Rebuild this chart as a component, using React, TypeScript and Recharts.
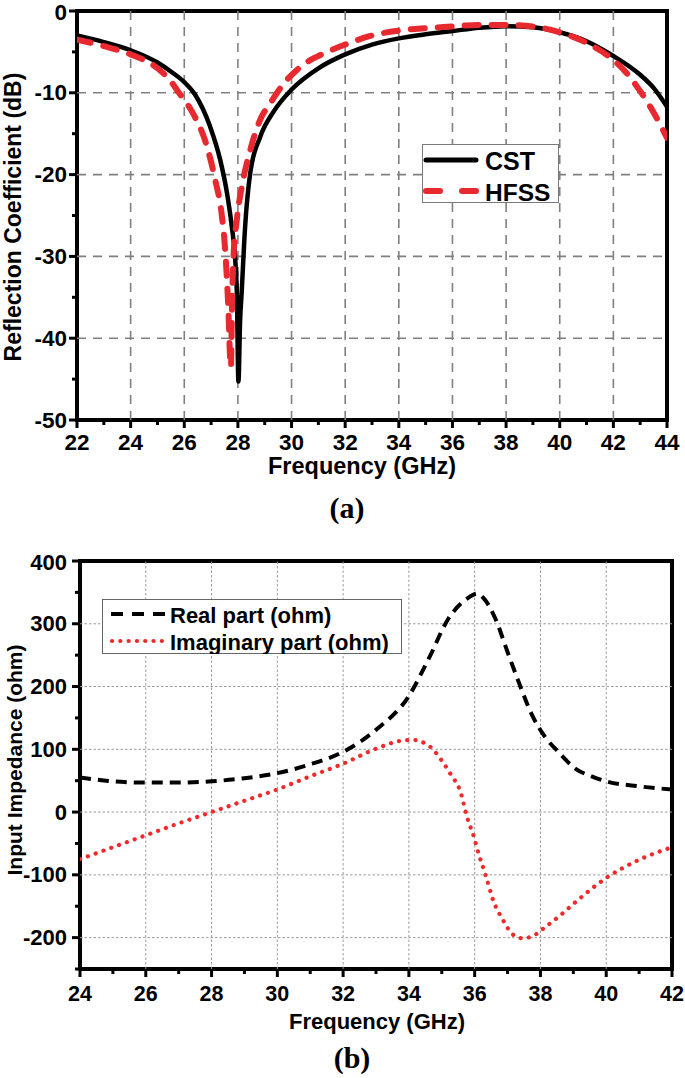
import React from 'react';
import { LineChart, Line, XAxis, YAxis, ReferenceLine, ReferenceArea, Label } from 'recharts';

const SANS = '"Liberation Sans", Arial, Helvetica, sans-serif';
const SERIF = '"Liberation Serif", "Times New Roman", serif';

// ---------- (a) Reflection coefficient ----------
const aTicksX = [22, 23, 24, 25, 26, 27, 28, 29, 30, 31, 32, 33, 34, 35, 36, 37, 38, 39, 40, 41, 42, 43, 44];
const aTicksY = [-50, -45, -40, -35, -30, -25, -20, -15, -10, -5, 0];
const aGridX = [24, 26, 28, 30, 32, 34, 36, 38, 40, 42];
const aGridY = [-40, -30, -20, -10];

const cstFreq = [22, 23, 24, 25, 25.5, 26, 26.4, 26.96, 27.34, 27.59, 27.77, 27.9, 27.96, 28.02, 28.08, 28.14, 28.27, 28.46, 28.83, 29.33, 30, 31, 32, 33, 34, 35, 36, 37, 38, 39, 40, 41, 42, 43, 43.5, 44];
const cstDb = [-3.0, -3.8, -4.8, -6.3, -7.4, -8.7, -10.2, -14.1, -18.2, -22.2, -26.3, -30.4, -34.4, -45.3, -38, -34.4, -26.3, -19.8, -15.4, -12.3, -9.6, -7.0, -5.3, -4.1, -3.35, -2.85, -2.45, -2.05, -1.85, -2.0, -2.6, -3.7, -5.5, -7.8, -9.4, -11.7];

const hfssFreq = [22, 23, 24, 25, 25.5, 25.8, 26.1, 26.34, 26.84, 27.15, 27.4, 27.52, 27.59, 27.65, 27.71, 27.74, 27.78, 27.83, 27.96, 28.15, 28.46, 28.83, 29.2, 29.5, 29.83, 30.2, 30.7, 31, 32, 33, 34, 35, 36, 37, 38, 39, 40, 41, 42, 42.5, 43, 43.5, 44];
const hfssDb = [-3.5, -4.3, -5.3, -7.0, -8.6, -10.0, -11.3, -12.6, -16.5, -20.6, -25, -29, -32.8, -36.9, -42.6, -43.5, -36, -30.4, -25.5, -21.4, -17, -13.3, -11.3, -9.8, -8.4, -7.2, -6.0, -5.5, -4.1, -3.0, -2.4, -2.1, -1.9, -1.7, -1.7, -1.9, -2.6, -3.9, -6.0, -7.6, -9.8, -12.4, -15.5];

// ---------- (b) Input impedance ----------
const bTicksX = [24, 25, 26, 27, 28, 29, 30, 31, 32, 33, 34, 35, 36, 37, 38, 39, 40, 41, 42];
const bTicksY = [-250, -200, -150, -100, -50, 0, 50, 100, 150, 200, 250, 300, 350, 400];
const bGridX = [26, 28, 30, 32, 34, 36, 38, 40];
const bGridY = [-200, -100, 0, 100, 200, 300];

const realFreq = [24, 25, 26, 27, 28, 29, 30, 31, 32, 33, 34, 34.6, 35.2, 35.77, 36.08, 36.33, 36.63, 37, 37.34, 37.75, 38.15, 38.56, 39.07, 39.5, 40, 41, 42];
const realOhm = [55, 49, 47, 47, 49, 54, 62, 76, 96, 131, 185, 244, 308, 340, 348, 337, 308, 255, 207, 154, 119, 95, 69, 58, 49, 41, 36];

const imagFreq = [24, 25, 26, 27, 28, 29, 30, 31, 32, 33, 33.8, 34.1, 34.6, 34.96, 35.26, 35.57, 35.77, 35.98, 36.13, 36.33, 36.58, 36.84, 37.14, 37.44, 37.75, 38.15, 38.66, 39.12, 40, 41, 42];
const imagOhm = [-75, -56, -37, -18, 0, 18, 36, 57, 77, 101, 114, 115, 106, 85, 61, 32, -8, -40, -68, -100, -143, -170, -194, -201, -198, -183, -162, -141, -105, -76, -56];

const zip = (xs: number[], ys: number[]) => xs.map((f, i) => ({ f, v: ys[i] }));
const cstData = zip(cstFreq, cstDb);
const hfssData = zip(hfssFreq, hfssDb);
const realData = zip(realFreq, realOhm);
const imagData = zip(imagFreq, imagOhm);

function makeXTick(step: number, labelDy: number, fontSize: number) {
  return (props: any) => {
    const { x, y, payload } = props;
    const v = Number(payload.value);
    const major = Math.abs(v % step) < 1e-6;
    return (
      <g>
        <line x1={x} x2={x} y1={y} y2={y + (major ? 8 : 5)} stroke="#000" strokeWidth={3} />
        {major && (
          <text x={x} y={y + labelDy} textAnchor="middle" dominantBaseline="central"
            fontFamily={SANS} fontWeight="bold" fontSize={fontSize} fill="#000">{v}</text>
        )}
      </g>
    );
  };
}

function makeYTick(step: number, labelDx: number, fontSize: number, topValue: number) {
  return (props: any) => {
    const { x, y, payload } = props;
    const v = Number(payload.value);
    const major = Math.abs(v % step) < 1e-6;
    const ty = v === topValue ? y + 1.5 : y;
    return (
      <g>
        <line x1={x - (major ? 8 : 5)} x2={x} y1={y} y2={y} stroke="#000" strokeWidth={3} />
        {major && (
          <text x={x - labelDx} y={ty} textAnchor="end" dominantBaseline="central"
            fontFamily={SANS} fontWeight="bold" fontSize={fontSize} fill="#000">{v}</text>
        )}
      </g>
    );
  };
}

const titleStyle = { fontFamily: SANS, fontWeight: 'bold' as const, fill: '#000' };

function ChartA() {
  return (
    <LineChart width={685} height={480} margin={{ top: 11, right: 18, bottom: 0, left: 0 }} style={{ overflow: 'visible' }}>
      {aGridX.map((g) => (
        <ReferenceLine key={'ax' + g} x={g} stroke="#808080" strokeWidth={1.6} strokeDasharray="9 7" />
      ))}
      {aGridY.map((g) => (
        <ReferenceLine key={'ay' + g} y={g} stroke="#808080" strokeWidth={1.6} strokeDasharray="9 7" />
      ))}
      <XAxis dataKey="f" type="number" domain={[22, 44]} ticks={aTicksX} interval={0} height={60}
        axisLine={false} tickLine={false} tickSize={0} tickMargin={0} tick={makeXTick(2, 22, 22.5)} allowDataOverflow>
        <Label content={() => (
          <text x={362} y={466} textAnchor="middle" dominantBaseline="central" fontSize={23.5} {...titleStyle}>Frequency (GHz)</text>
        )} />
      </XAxis>
      <YAxis type="number" domain={[-50, 0]} ticks={aTicksY} interval={0} width={77}
        axisLine={false} tickLine={false} tickSize={0} tickMargin={0} tick={makeYTick(10, 10, 22.5, 0)} allowDataOverflow>
        <Label content={() => (
          <text transform="translate(13,217) rotate(-90)" textAnchor="middle" dominantBaseline="central" fontSize={23} {...titleStyle}>Reflection Coefficient (dB)</text>
        )} />
      </YAxis>
      <Line data={cstData} dataKey="v" type="monotone" dot={false} stroke="#000" strokeWidth={4.5}
        isAnimationActive={false} name="CST" />
      <Line data={hfssData} dataKey="v" type="monotone" dot={false} stroke="#e8292f" strokeWidth={6}
        strokeDasharray="14 13" strokeLinecap="round" isAnimationActive={false} name="HFSS" />
      <ReferenceArea x1={22} x2={44} y1={-50} y2={0} fill="none" fillOpacity={0} stroke="#000" strokeWidth={4} />
    </LineChart>
  );
}

function ChartB() {
  return (
    <LineChart width={685} height={510} margin={{ top: 21, right: 13, bottom: 20, left: 0 }}>
      {bGridX.map((g) => (
        <ReferenceLine key={'bx' + g} x={g} stroke="#9a9a9a" strokeWidth={1} strokeDasharray="2.5 2" />
      ))}
      {bGridY.map((g) => (
        <ReferenceLine key={'by' + g} y={g} stroke="#9a9a9a" strokeWidth={1} strokeDasharray="2.5 2" />
      ))}
      <XAxis dataKey="f" type="number" domain={[24, 42]} ticks={bTicksX} interval={0} height={61}
        axisLine={false} tickLine={false} tickSize={0} tickMargin={0} tick={makeXTick(2, 25, 21.5)} allowDataOverflow>
        <Label content={() => (
          <text x={377} y={481} textAnchor="middle" dominantBaseline="central" fontSize={22} {...titleStyle}>Frequency (GHz)</text>
        )} />
      </XAxis>
      <YAxis type="number" domain={[-250, 400]} ticks={bTicksY} interval={0} width={80}
        axisLine={false} tickLine={false} tickSize={0} tickMargin={0} tick={makeYTick(100, 13, 22, 400)} allowDataOverflow>
        <Label content={() => (
          <text transform="translate(14,220) rotate(-90)" textAnchor="middle" dominantBaseline="central" fontSize={21} {...titleStyle}>Input Impedance (ohm)</text>
        )} />
      </YAxis>
      <Line data={realData} dataKey="v" type="monotone" dot={false} stroke="#000" strokeWidth={4}
        strokeDasharray="11 7" isAnimationActive={false} name="Real part (ohm)" />
      <Line data={imagData} dataKey="v" type="monotone" dot={false} stroke="#f02a2a" strokeWidth={4.2}
        strokeDasharray="0.1 8.2" strokeLinecap="round" isAnimationActive={false} name="Imaginary part (ohm)" />
      <ReferenceArea x1={24} x2={42} y1={-250} y2={400} fill="none" fillOpacity={0} stroke="#000" strokeWidth={4} />
    </LineChart>
  );
}

function LegendA() {
  return (
    <svg width={160} height={59} style={{ position: 'absolute', left: 422, top: 144, overflow: 'visible' }}>
      <rect x={0.5} y={0.5} width={136} height={58} fill="#fff" stroke="#7a7a7a" strokeWidth={1} />
      <line x1={4} x2={54} y1={16} y2={16} stroke="#000" strokeWidth={5} strokeLinecap="round" />
      <line x1={4} x2={56} y1={47} y2={47} stroke="#e8292f" strokeWidth={6} strokeDasharray="14 22" strokeLinecap="round" />
      <text x={63} y={17} dominantBaseline="central" fontFamily={SANS} fontWeight="bold" fontSize={25}>CST</text>
      <text x={63} y={48} dominantBaseline="central" fontFamily={SANS} fontWeight="bold" fontSize={24.5}>HFSS</text>
    </svg>
  );
}

function LegendB() {
  return (
    <svg width={300} height={55} style={{ position: 'absolute', left: 102, top: 599 }}>
      <rect x={0.5} y={0.5} width={299} height={54} fill="#fff" stroke="#666" strokeWidth={1} />
      <line x1={9} x2={63} y1={15} y2={15} stroke="#000" strokeWidth={4} strokeDasharray="12 9" />
      <line x1={10} x2={64} y1={42} y2={42} stroke="#f02a2a" strokeWidth={4.2} strokeDasharray="0.1 8.2" strokeLinecap="round" />
      <text x={68} y={16} dominantBaseline="central" fontFamily={SANS} fontWeight="bold" fontSize={22}>Real part (ohm)</text>
      <text x={68} y={43} dominantBaseline="central" fontFamily={SANS} fontWeight="bold" fontSize={22}>Imaginary part (ohm)</text>
    </svg>
  );
}

export default function App() {
  return (
    <div style={{ position: 'absolute', left: 0, top: 0, width: 685, height: 1078, background: '#fff', overflow: 'hidden' }}>
      <div style={{ position: 'absolute', left: 0, top: 0 }}>
        <ChartA />
      </div>
      <LegendA />
      <div style={{ position: 'absolute', left: 0, top: 540 }}>
        <ChartB />
      </div>
      <LegendB />
      <div style={{ position: 'absolute', left: 0, top: 490, width: 694, textAlign: 'center', fontFamily: SERIF, fontWeight: 'bold', fontSize: 30, lineHeight: '36px' }}>(a)</div>
      <div style={{ position: 'absolute', left: 0, top: 1040, width: 704, textAlign: 'center', fontFamily: SERIF, fontWeight: 'bold', fontSize: 30, lineHeight: '36px' }}>(b)</div>
    </div>
  );
}
